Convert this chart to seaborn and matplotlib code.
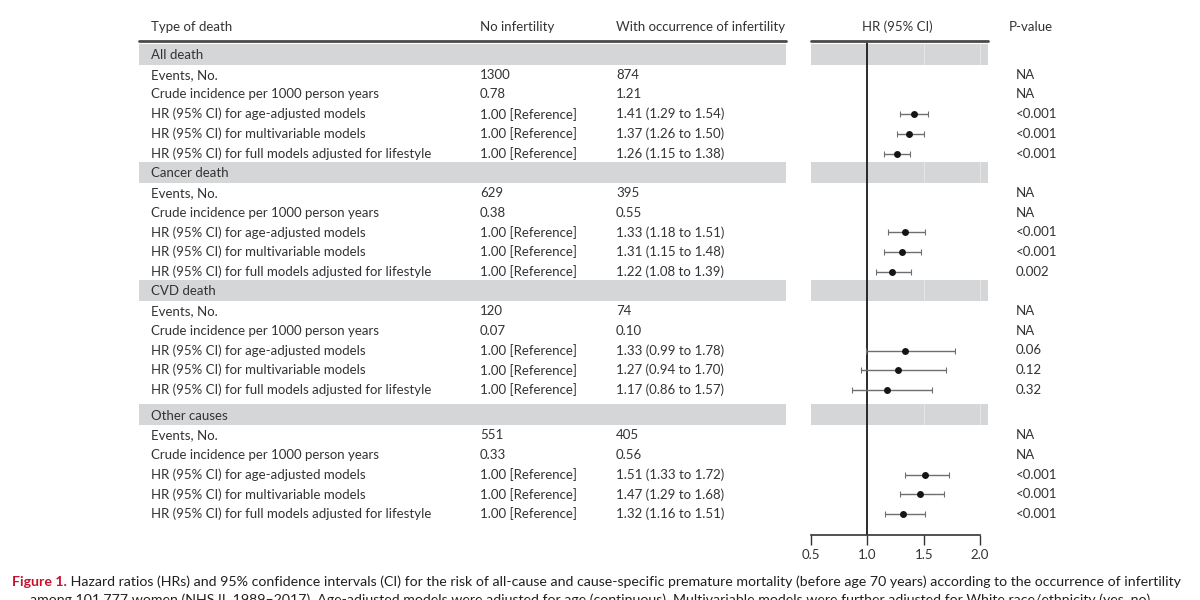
import numpy as np
import matplotlib
matplotlib.use("Agg")
import matplotlib.pyplot as plt
import matplotlib.transforms as mtransforms
import seaborn as sns

# data
sections = ["All death", "Cancer death", "CVD death", "Other causes"]
row_labels = ["Events, No.",
              "Crude incidence per 1000 person years",
              "HR (95% CI) for age-adjusted models",
              "HR (95% CI) for multivariable models",
              "HR (95% CI) for full models adjusted for lifestyle"]
events_no_inf = ["1300", "629", "120", "551"]
events_inf = ["874", "395", "74", "405"]
incidence_no_inf = ["0.78", "0.38", "0.07", "0.33"]
incidence_inf = ["1.21", "0.55", "0.10", "0.56"]
hr = [[1.41, 1.37, 1.26], [1.33, 1.31, 1.22], [1.33, 1.27, 1.17], [1.51, 1.47, 1.32]]
hr_lo = [[1.29, 1.26, 1.15], [1.18, 1.15, 1.08], [0.99, 0.94, 0.86], [1.33, 1.29, 1.16]]
hr_hi = [[1.54, 1.50, 1.38], [1.51, 1.48, 1.39], [1.78, 1.70, 1.57], [1.72, 1.68, 1.51]]
p_values = [["NA", "NA", "<0.001", "<0.001", "<0.001"],
            ["NA", "NA", "<0.001", "<0.001", "0.002"],
            ["NA", "NA", "0.06", "0.12", "0.32"],
            ["NA", "NA", "<0.001", "<0.001", "<0.001"]]
x_ticks = [0.5, 1.0, 1.5, 2.0]

sns.set_theme(style="white")
plt.rcParams["font.family"] = ["Lato", "DejaVu Sans"]

txt_col = "#333333"
band_col = "#d5d6d8"
line_col = "#4a4a4a"
fs = 9.5
cap_fs = 10.2

fig = plt.figure(figsize=(12, 6), dpi=100)
W, H = 1200, 600
top_px, bot_px = 41, 535
row0_px, step_px = 55, 19.7

def ax_box(x0, x1):
    return [x0 / W, 1 - bot_px / H, (x1 - x0) / W, (bot_px - top_px) / H]

ax = fig.add_axes(ax_box(811, 988))
tab = fig.add_axes(ax_box(139, 786), sharey=ax)
ylim = ((bot_px - row0_px) / step_px, (top_px - row0_px) / step_px)
ax.set_ylim(*ylim)
ax.set_xlim(0.5, 2.07)
tab.set_xlim(139, 786)
tab.axis("off")

# row positions (small extra gap before the last block)
pos = []
for i in range(24):
    pos.append(i + (0.3 if i >= 18 else 0))

for s, name in enumerate(sections):
    r = pos[s * 6]
    for a in (ax, tab):
        a.axhspan(r - 0.58, r + 0.5, color=band_col, lw=0, zorder=0)
    tab.text(151, r, name, ha="left", va="center", fontsize=fs, color=txt_col)
    for j, lab in enumerate(row_labels):
        tab.text(151, pos[s * 6 + 1 + j], lab, ha="left", va="center", fontsize=fs, color=txt_col)
    col2 = [events_no_inf[s], incidence_no_inf[s]] + ["1.00 [Reference]"] * 3
    col3 = [events_inf[s], incidence_inf[s]] + [
        f"{hr[s][k]:.2f} ({hr_lo[s][k]:.2f} to {hr_hi[s][k]:.2f})" for k in range(3)]
    for j in range(5):
        yy = pos[s * 6 + 1 + j]
        tab.text(480, yy, col2[j], ha="left", va="center", fontsize=fs, color=txt_col)
        tab.text(616, yy, col3[j], ha="left", va="center", fontsize=fs, color=txt_col)

# header
hy = (27 - row0_px) / step_px
tab.text(151, hy, "Type of death", ha="left", va="center", fontsize=fs, color=txt_col)
tab.text(480, hy, "No infertility", ha="left", va="center", fontsize=fs, color=txt_col)
tab.text(616, hy, "With occurrence of infertility", ha="left", va="center", fontsize=fs, color=txt_col)
ax.text(1.27, hy, "HR (95% CI)", ha="center", va="center", fontsize=fs, color=txt_col)
for a in (ax, tab):
    a.axhline(ylim[1], color=line_col, lw=2, clip_on=False, zorder=4)

# p-values column
ptrans = mtransforms.blended_transform_factory(fig.transFigure, ax.transData)
ax.text(1009 / W, hy, "P-value", transform=ptrans, ha="left", va="center", fontsize=fs, color=txt_col)
for s in range(4):
    for j in range(5):
        ax.text(1016 / W, pos[s * 6 + 1 + j], p_values[s][j], transform=ptrans,
                ha="left", va="center", fontsize=fs, color=txt_col)

# forest marks
hr_all = np.array(hr).ravel()
lo_all = np.array(hr_lo).ravel()
hi_all = np.array(hr_hi).ravel()
y_hr = np.array([pos[s * 6 + 3 + k] for s in range(4) for k in range(3)])
for xv in (1.5, 2.0):
    ax.axvline(xv, color="white", lw=0.6, alpha=0.45, zorder=1)
ax.axvline(1.0, color="#1a1a1a", lw=1.3, zorder=2)
ax.errorbar(hr_all, y_hr, xerr=[hr_all - lo_all, hi_all - hr_all], fmt="none",
            ecolor="#6e6e6e", elinewidth=1, capsize=2.2, capthick=0.8, zorder=3)
sns.scatterplot(x=hr_all, y=y_hr, ax=ax, color="#151515", s=25, linewidth=0, zorder=4)

for sp in ("top", "right", "left"):
    ax.spines[sp].set_visible(False)
ax.spines["bottom"].set_bounds(0.5, 2.0)
ax.spines["bottom"].set_color("#333333")
ax.spines["bottom"].set_linewidth(1.2)
ax.set_xticks(x_ticks)
ax.set_xticklabels([f"{v:.1f}" for v in x_ticks])
ax.tick_params(axis="x", direction="out", length=7, width=1, color="#333333",
               labelsize=fs, labelcolor=txt_col, pad=3, bottom=True)
ax.set_yticks([])
ax.set_xlabel("")
ax.set_ylabel("")

# caption
cap = fig.text(12 / W, 1 - 582 / H, "Figure 1.", ha="left", va="center", fontsize=cap_fs,
               fontweight="bold", color="#c8102e")
ax.annotate(" Hazard ratios (HRs) and 95% confidence intervals (CI) for the risk of all-cause and "
            "cause-specific premature mortality (before age 70 years) according to the occurrence of infertility",
            xy=(1, 0.5), xycoords=cap, ha="left", va="center", fontsize=cap_fs, color="#231f20",
            annotation_clip=False)
fig.text(30 / W, 1 - 600 / H, "among 101,777 women (NHS II, 1989\u20132017). Age-adjusted models were adjusted "
         "for age (continuous). Multivariable models were further adjusted for White race/ethnicity (yes, no),",
         ha="left", va="center", fontsize=cap_fs, color="#231f20")

fig.savefig("out.png", dpi=100)
